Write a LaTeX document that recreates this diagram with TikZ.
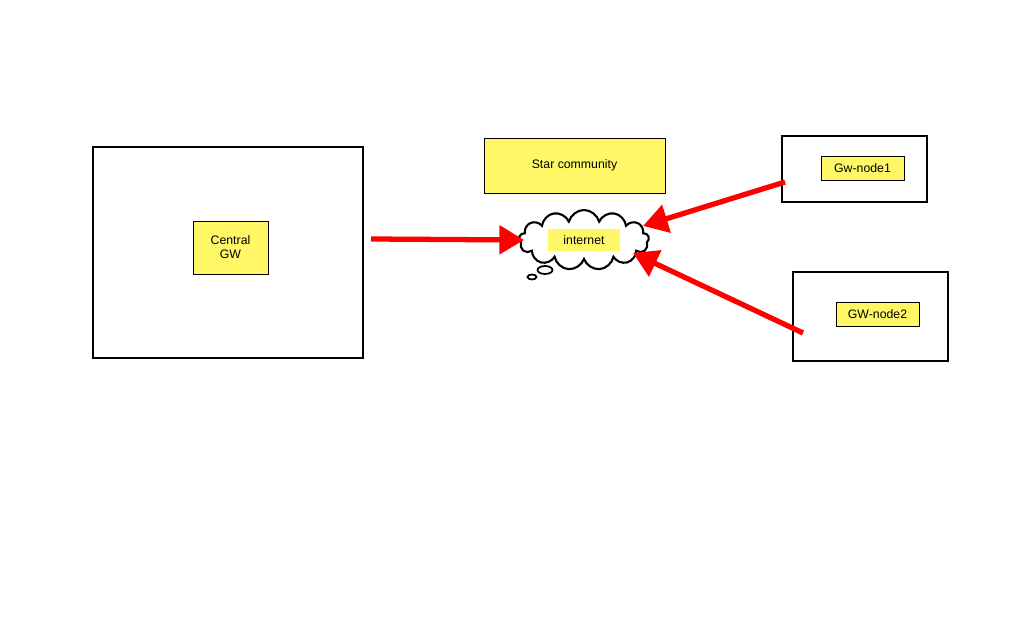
\documentclass[tikz,border=0pt]{standalone}
\usepackage{fontspec}
\setmainfont{Liberation Sans}
\usetikzlibrary{shapes.symbols,shapes.geometric,arrows.meta}
\tikzstyle{frame}=[draw=black,line width=1.5pt,inner sep=0pt]
\tikzstyle{lbl}=[draw=black,fill=yellow!60,font=\scriptsize,align=center,inner sep=2pt]
\tikzstyle{link}=[draw=red,line width=3pt,-{Triangle[length=14pt,width=16pt]}]

\begin{document}
\begin{tikzpicture}[x=0.02cm,y=-0.02cm]
\useasboundingbox (0,0) rectangle (1010,634);
\node[frame,minimum width=5.4cm,minimum height=4.22cm] (central) at (228,252.5) {};
\node[lbl,minimum width=1.5cm,minimum height=1.06cm] (cgw) at (230.5,247.5) {Central\\GW};
\node[lbl,minimum width=3.62cm,minimum height=1.1cm] (star) at (574.5,165.5) {Star community};
\node[cloud,draw=black,line width=1.2pt,cloud puffs=13,aspect=2.4,minimum width=2.6cm,minimum height=1.2cm,inner sep=0pt] (cloud) at (584,240) {};
\node[lbl,draw=none,minimum width=1.44cm,minimum height=0.44cm] (inet) at (584,240) {internet};
\node[draw=black,line width=1pt,ellipse,minimum width=0.3cm,minimum height=0.16cm,inner sep=0pt] (puff1) at (545,270) {};
\node[draw=black,line width=1pt,ellipse,minimum width=0.18cm,minimum height=0.1cm,inner sep=0pt] (puff2) at (532,277) {};
\node[frame,minimum width=2.9cm,minimum height=1.32cm] (gw1) at (854.5,169) {};
\node[lbl,minimum width=1.66cm,minimum height=0.48cm] (gw1l) at (862.5,168) {Gw-node1};
\node[frame,minimum width=3.1cm,minimum height=1.78cm] (gw2) at (870.5,316.5) {};
\node[lbl,minimum width=1.66cm,minimum height=0.48cm] (gw2l) at (877.5,314) {GW-node2};
\coordinate (s1) at (371,239);
\coordinate (e1) at (524,240);
\coordinate (s2) at (785,182);
\coordinate (e2) at (643,226);
\coordinate (s3) at (803,333);
\coordinate (e3) at (633,253);
\draw[link] (s1) -- (e1);
\draw[link] (s2) -- (e2);
\draw[link] (s3) -- (e3);
\end{tikzpicture}
\end{document}
